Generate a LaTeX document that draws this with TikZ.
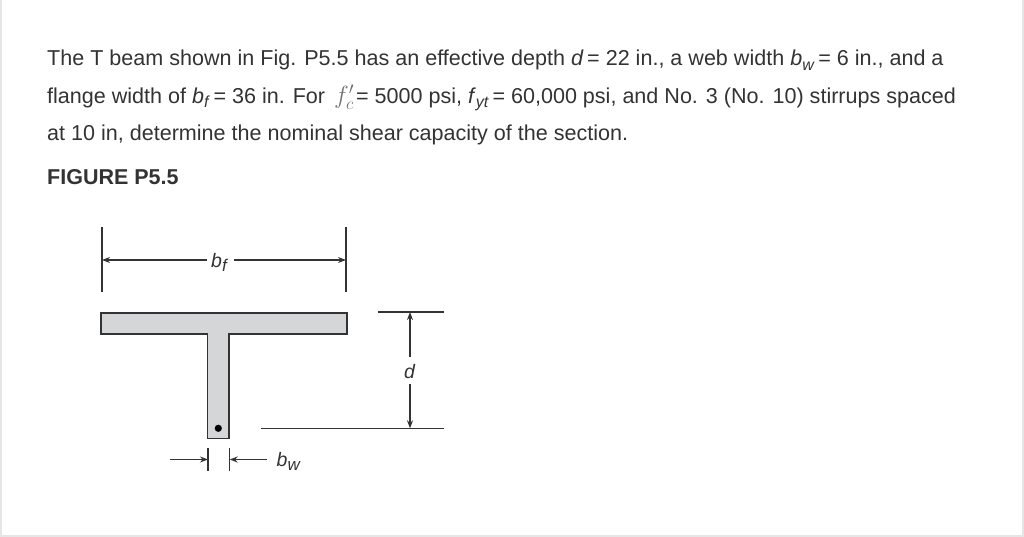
\documentclass[tikz,border=0pt]{standalone}
\usepackage{fontspec}
\setmainfont{Liberation Sans}
\usetikzlibrary{arrows.meta}
\definecolor{inkgray}{HTML}{333333}
\definecolor{webgray}{HTML}{D4D6D8}
\definecolor{framegray}{HTML}{E6E6E6}
\newcommand{\lowsub}[1]{\raisebox{-0.2em}{\fontsize{16}{16}\selectfont\textit{#1}}}
\newcommand{\dimsub}[1]{\raisebox{-0.2em}{\fontsize{17}{17}\selectfont\textit{#1}}}
\tikzset{
  textline/.style={anchor=base west,inner sep=0pt,text=inkgray,font=\fontsize{21.55}{21.55}\selectfont},
  dimlabel/.style={inner sep=0pt,text=inkgray,font=\fontsize{19.5}{19.5}\selectfont\itshape},
  dimline/.style={draw=inkgray,line width=1.2pt},
  dimarrow/.style={dimline,-{Stealth[length=8pt,width=6pt]}}
}
\begin{document}
\begin{tikzpicture}[x=1pt,y=-1pt]
  \useasboundingbox (0,0) rectangle (1024,537);
  \draw[framegray,line width=2pt] (0.5,-2) -- (0.5,535.5) -- (1022.5,535.5) -- (1022.5,-2);

  % problem text
  \node[textline] (lineone) at (47,66) {The T beam shown in Fig. P5.5 has an effective depth \textit{d}\,= 22 in., a web width \textit{b}\lowsub{w}\,= 6 in., and a};
  \node[textline] (linetwo) at (47,103.5) {flange width of \textit{b}\lowsub{f}\,= 36 in. For\hspace{9pt}{\color{inkgray!70}\fontsize{24}{24}\selectfont$f'_c$}\hspace{2pt}= 5000 psi, \textit{f}\lowsub{yt}\,= 60,000 psi, and No. 3 (No. 10) stirrups spaced};
  \node[textline] (linethree) at (47,140.5) {at 10 in, determine the nominal shear capacity of the section.};
  \node[textline,font=\fontsize{21.5}{21.5}\selectfont\bfseries] (figtitle) at (47,184.5) {FIGURE P5.5};

  % T section
  \draw[inkgray,fill=webgray,line width=1.2pt] (101,313) -- (347,313) -- (347,334) -- (229,334)
    -- (229,438.5) -- (207.5,438.5) -- (207.5,334) -- (101,334) -- cycle;
  \fill[black] (218.3,428.3) circle (3.6pt);

  % flange width
  \coordinate (bfleft) at (102,260);
  \coordinate (bfright) at (346,260);
  \draw[dimline] (102,227.5) -- (102,291.5);
  \draw[dimline] (346,227.5) -- (346,291.5);
  \node[dimlabel] (bflabel) at (219,262) {b\dimsub{f}};
  \draw[dimarrow] (206.5,260) -- (bfleft);
  \draw[dimarrow] (234,260) -- (bfright);

  % effective depth
  \coordinate (dtop) at (410,312);
  \coordinate (dbot) at (410,428.3);
  \draw[dimline] (377.5,312) -- (443.5,312);
  \draw[dimline] (261,428.3) -- (443.5,428.3);
  \node[dimlabel] (dlabel) at (409.5,371.5) {d};
  \draw[dimarrow] (410,357) -- (dtop);
  \draw[dimarrow] (410,384) -- (dbot);

  % web width
  \coordinate (bwleft) at (208,459.5);
  \coordinate (bwright) at (229.7,459.5);
  \draw[dimline] (208,448) -- (208,470.5);
  \draw[dimline] (229.7,448) -- (229.7,470.5);
  \node[dimlabel,anchor=west] (bwlabel) at (276.5,461) {b\dimsub{w}};
  \draw[dimarrow] (169.5,459.5) -- (bwleft);
  \draw[dimarrow] (266.5,459.5) -- (bwright);
\end{tikzpicture}
\end{document}
